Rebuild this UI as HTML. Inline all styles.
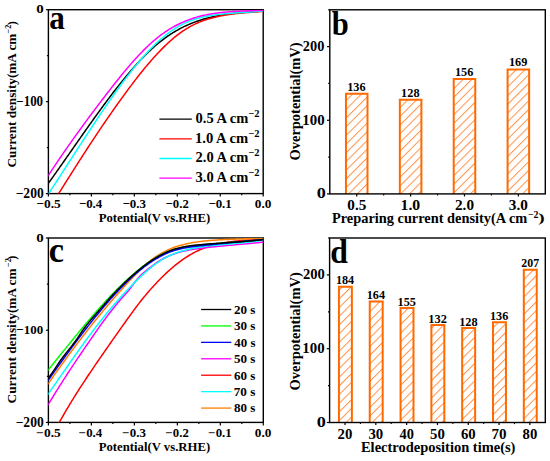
<!DOCTYPE html>
<html><head><meta charset="utf-8"><title>Figure</title>
<style>
html,body{margin:0;padding:0;background:#fff;}
body{width:550px;height:461px;overflow:hidden;font-family:"Liberation Serif",serif;}
svg{display:block;}
</style></head>
<body>
<svg width="550" height="461" viewBox="0 0 550 461">
<rect width="550" height="461" fill="#fff"/>
<g font-family='"Liberation Serif", serif' font-weight="bold">
<rect x="48.4" y="9.7" width="214.8" height="183.9" fill="none" stroke="#000" stroke-width="1.4"/>
<line x1="45.9" y1="9.7" x2="48.4" y2="9.7" stroke="#000" stroke-width="1.2"/>
<line x1="46.9" y1="55.67" x2="48.4" y2="55.67" stroke="#000" stroke-width="1.2"/>
<line x1="45.9" y1="101.65" x2="48.4" y2="101.65" stroke="#000" stroke-width="1.2"/>
<line x1="46.9" y1="147.62" x2="48.4" y2="147.62" stroke="#000" stroke-width="1.2"/>
<line x1="45.9" y1="193.6" x2="48.4" y2="193.6" stroke="#000" stroke-width="1.2"/>
<line x1="48.4" y1="193.6" x2="48.4" y2="196.6" stroke="#000" stroke-width="1.2"/>
<line x1="69.88" y1="193.6" x2="69.88" y2="195.2" stroke="#000" stroke-width="1.2"/>
<line x1="91.36" y1="193.6" x2="91.36" y2="196.6" stroke="#000" stroke-width="1.2"/>
<line x1="112.84" y1="193.6" x2="112.84" y2="195.2" stroke="#000" stroke-width="1.2"/>
<line x1="134.32" y1="193.6" x2="134.32" y2="196.6" stroke="#000" stroke-width="1.2"/>
<line x1="155.8" y1="193.6" x2="155.8" y2="195.2" stroke="#000" stroke-width="1.2"/>
<line x1="177.28" y1="193.6" x2="177.28" y2="196.6" stroke="#000" stroke-width="1.2"/>
<line x1="198.76" y1="193.6" x2="198.76" y2="195.2" stroke="#000" stroke-width="1.2"/>
<line x1="220.24" y1="193.6" x2="220.24" y2="196.6" stroke="#000" stroke-width="1.2"/>
<line x1="241.72" y1="193.6" x2="241.72" y2="195.2" stroke="#000" stroke-width="1.2"/>
<line x1="263.2" y1="193.6" x2="263.2" y2="196.6" stroke="#000" stroke-width="1.2"/>
<text x="36.3" y="13.2" font-size="12.48" textLength="7.5" lengthAdjust="spacingAndGlyphs" fill="#000">0</text>
<text x="16.29" y="105.8" font-size="13.53" textLength="26.83" lengthAdjust="spacingAndGlyphs" fill="#000">−100</text>
<text x="15.65" y="197.8" font-size="13.68" textLength="28.09" lengthAdjust="spacingAndGlyphs" fill="#000">−200</text>
<text x="36.36" y="208.3" font-size="13.08" textLength="24.41" lengthAdjust="spacingAndGlyphs" fill="#000">−0.5</text>
<text x="78.89" y="208.3" font-size="13.08" textLength="23.36" lengthAdjust="spacingAndGlyphs" fill="#000">−0.4</text>
<text x="122.39" y="208.3" font-size="13.08" textLength="23.46" lengthAdjust="spacingAndGlyphs" fill="#000">−0.3</text>
<text x="165.6" y="208.3" font-size="13.08" textLength="23.17" lengthAdjust="spacingAndGlyphs" fill="#000">−0.2</text>
<text x="208.39" y="208.3" font-size="13.08" textLength="23.35" lengthAdjust="spacingAndGlyphs" fill="#000">−0.1</text>
<text x="254.77" y="208.3" font-size="13.08" textLength="16.56" lengthAdjust="spacingAndGlyphs" fill="#000">0.0</text>
<text x="98.71" y="221.7" font-size="13.24" textLength="111.45" lengthAdjust="spacingAndGlyphs" fill="#000">Potential(V vs.RHE)</text>
<text transform="translate(15.9,167.46) rotate(-90)" x="0" y="0" font-size="12.09" textLength="133.68" lengthAdjust="spacingAndGlyphs">Current density(mA cm</text>
<text transform="translate(11.2,33.5) rotate(-90)" font-size="8.5" textLength="8.8" lengthAdjust="spacingAndGlyphs">−2</text>
<text transform="translate(16.2,25.2) rotate(-90)" font-size="12.5">)</text>
<text x="49.26" y="28.9" font-size="34.68" textLength="15.6" lengthAdjust="spacingAndGlyphs" fill="#000">a</text>
<line x1="159.4" y1="119.2" x2="191.8" y2="119.2" stroke="#000000" stroke-width="1.3"/>
<text x="195.52" y="123" font-size="13.83" textLength="52.76" lengthAdjust="spacingAndGlyphs" fill="#000">0.5 A cm</text>
<text x="248.4" y="117" font-size="10" textLength="11.2" lengthAdjust="spacingAndGlyphs">−2</text>
<line x1="159.4" y1="138.85" x2="191.8" y2="138.85" stroke="#FF0000" stroke-width="1.3"/>
<text x="194.93" y="142.65" font-size="13.83" textLength="53.35" lengthAdjust="spacingAndGlyphs" fill="#000">1.0 A cm</text>
<text x="248.4" y="136.65" font-size="10" textLength="11.2" lengthAdjust="spacingAndGlyphs">−2</text>
<line x1="159.4" y1="158.5" x2="191.8" y2="158.5" stroke="#00FFFF" stroke-width="1.3"/>
<text x="195.52" y="162.3" font-size="13.83" textLength="52.76" lengthAdjust="spacingAndGlyphs" fill="#000">2.0 A cm</text>
<text x="248.4" y="156.3" font-size="10" textLength="11.2" lengthAdjust="spacingAndGlyphs">−2</text>
<line x1="159.4" y1="178.15" x2="191.8" y2="178.15" stroke="#FF00FF" stroke-width="1.3"/>
<text x="195.52" y="181.95" font-size="13.83" textLength="52.76" lengthAdjust="spacingAndGlyphs" fill="#000">3.0 A cm</text>
<text x="248.4" y="175.95" font-size="10" textLength="11.2" lengthAdjust="spacingAndGlyphs">−2</text>
<g clip-path="url(#clipA)">
<path d="M46,186.58 L47,185.19 L48,183.81 L49,182.42 L50,181.02 L51,179.62 L52,178.22 L53,176.82 L54,175.41 L55,174 L56,172.59 L57,171.17 L58,169.76 L59,168.34 L60,166.92 L61,165.49 L62,164.07 L63,162.64 L64,161.22 L65,159.79 L66,158.36 L67,156.93 L68,155.5 L69,154.07 L70,152.64 L71,151.2 L72,149.77 L73,148.34 L74,146.91 L75,145.48 L76,144.04 L77,142.61 L78,141.18 L79,139.75 L80,138.33 L81,136.9 L82,135.48 L83,134.05 L84,132.63 L85,131.21 L86,129.79 L87,128.38 L88,126.96 L89,125.55 L90,124.14 L91,122.74 L92,121.34 L93,119.94 L94,118.54 L95,117.15 L96,115.76 L97,114.37 L98,112.99 L99,111.61 L100,110.24 L101,108.87 L102,107.5 L103,106.14 L104,104.78 L105,103.43 L106,102.09 L107,100.74 L108,99.41 L109,98.08 L110,96.75 L111,95.44 L112,94.12 L113,92.82 L114,91.52 L115,90.23 L116,88.94 L117,87.66 L118,86.39 L119,85.13 L120,83.87 L121,82.62 L122,81.38 L123,80.15 L124,78.92 L125,77.71 L126,76.5 L127,75.3 L128,74.11 L129,72.93 L130,71.76 L131,70.6 L132,69.45 L133,68.31 L134,67.17 L135,66.05 L136,64.94 L137,63.84 L138,62.75 L139,61.67 L140,60.61 L141,59.55 L142,58.51 L143,57.47 L144,56.45 L145,55.44 L146,54.45 L147,53.46 L148,52.49 L149,51.53 L150,50.59 L151,49.65 L152,48.74 L153,47.83 L154,46.94 L155,46.06 L156,45.2 L157,44.35 L158,43.51 L159,42.69 L160,41.88 L161,41.09 L162,40.32 L163,39.56 L164,38.81 L165,38.08 L166,37.36 L167,36.65 L168,35.96 L169,35.28 L170,34.62 L171,33.97 L172,33.33 L173,32.71 L174,32.1 L175,31.5 L176,30.92 L177,30.34 L178,29.78 L179,29.24 L180,28.7 L181,28.18 L182,27.66 L183,27.16 L184,26.67 L185,26.19 L186,25.73 L187,25.27 L188,24.83 L189,24.39 L190,23.97 L191,23.55 L192,23.15 L193,22.76 L194,22.37 L195,22 L196,21.63 L197,21.28 L198,20.93 L199,20.6 L200,20.27 L201,19.95 L202,19.64 L203,19.34 L204,19.05 L205,18.76 L206,18.48 L207,18.22 L208,17.95 L209,17.7 L210,17.45 L211,17.21 L212,16.98 L213,16.76 L214,16.54 L215,16.33 L216,16.12 L217,15.93 L218,15.73 L219,15.55 L220,15.37 L221,15.19 L222,15.02 L223,14.86 L224,14.7 L225,14.55 L226,14.4 L227,14.26 L228,14.12 L229,13.98 L230,13.85 L231,13.73 L232,13.61 L233,13.49 L234,13.38 L235,13.27 L236,13.16 L237,13.05 L238,12.95 L239,12.86 L240,12.76 L241,12.67 L242,12.58 L243,12.49 L244,12.41 L245,12.33 L246,12.25 L247,12.17 L248,12.09 L249,12.01 L250,11.94 L251,11.87 L252,11.79 L253,11.72 L254,11.65 L255,11.58 L256,11.51 L257,11.44 L258,11.37 L259,11.3 L260,11.23 L261,11.16 L262,11.09 L263,11.02 L264,10.95" fill="none" stroke="#000000" stroke-width="1.5" stroke-linejoin="round"/>
<path d="M54,200.8 L55,199.24 L56,197.68 L57,196.11 L58,194.54 L59,192.97 L60,191.39 L61,189.81 L62,188.24 L63,186.66 L64,185.08 L65,183.5 L66,181.92 L67,180.33 L68,178.75 L69,177.17 L70,175.59 L71,174.01 L72,172.43 L73,170.85 L74,169.28 L75,167.7 L76,166.13 L77,164.56 L78,162.99 L79,161.43 L80,159.86 L81,158.3 L82,156.75 L83,155.19 L84,153.64 L85,152.09 L86,150.55 L87,149.01 L88,147.47 L89,145.94 L90,144.41 L91,142.89 L92,141.37 L93,139.85 L94,138.34 L95,136.83 L96,135.33 L97,133.83 L98,132.33 L99,130.84 L100,129.36 L101,127.88 L102,126.4 L103,124.93 L104,123.47 L105,122.01 L106,120.55 L107,119.1 L108,117.65 L109,116.2 L110,114.76 L111,113.33 L112,111.9 L113,110.47 L114,109.05 L115,107.63 L116,106.21 L117,104.8 L118,103.4 L119,102 L120,100.61 L121,99.22 L122,97.84 L123,96.46 L124,95.09 L125,93.72 L126,92.36 L127,91.01 L128,89.66 L129,88.32 L130,86.98 L131,85.65 L132,84.33 L133,83.02 L134,81.71 L135,80.41 L136,79.11 L137,77.83 L138,76.55 L139,75.28 L140,74.02 L141,72.77 L142,71.52 L143,70.29 L144,69.06 L145,67.84 L146,66.64 L147,65.44 L148,64.26 L149,63.08 L150,61.92 L151,60.76 L152,59.62 L153,58.49 L154,57.37 L155,56.26 L156,55.16 L157,54.08 L158,53.01 L159,51.95 L160,50.91 L161,49.87 L162,48.85 L163,47.85 L164,46.86 L165,45.88 L166,44.92 L167,43.97 L168,43.04 L169,42.12 L170,41.22 L171,40.33 L172,39.46 L173,38.61 L174,37.77 L175,36.95 L176,36.14 L177,35.35 L178,34.58 L179,33.82 L180,33.08 L181,32.36 L182,31.66 L183,30.98 L184,30.31 L185,29.66 L186,29.03 L187,28.42 L188,27.82 L189,27.25 L190,26.69 L191,26.14 L192,25.61 L193,25.1 L194,24.6 L195,24.12 L196,23.65 L197,23.2 L198,22.76 L199,22.34 L200,21.93 L201,21.53 L202,21.15 L203,20.77 L204,20.41 L205,20.06 L206,19.73 L207,19.4 L208,19.09 L209,18.78 L210,18.49 L211,18.21 L212,17.93 L213,17.67 L214,17.41 L215,17.17 L216,16.93 L217,16.7 L218,16.48 L219,16.26 L220,16.06 L221,15.86 L222,15.67 L223,15.48 L224,15.3 L225,15.13 L226,14.97 L227,14.81 L228,14.66 L229,14.51 L230,14.37 L231,14.23 L232,14.1 L233,13.97 L234,13.85 L235,13.73 L236,13.62 L237,13.51 L238,13.41 L239,13.3 L240,13.2 L241,13.11 L242,13.01 L243,12.92 L244,12.84 L245,12.75 L246,12.67 L247,12.58 L248,12.5 L249,12.42 L250,12.35 L251,12.27 L252,12.19 L253,12.11 L254,12.04 L255,11.96 L256,11.89 L257,11.81 L258,11.73 L259,11.65 L260,11.57 L261,11.49 L262,11.41 L263,11.32 L264,11.24" fill="none" stroke="#FF0000" stroke-width="1.5" stroke-linejoin="round"/>
<path d="M46,197.6 L47,196.08 L48,194.56 L49,193.04 L50,191.51 L51,189.98 L52,188.45 L53,186.91 L54,185.38 L55,183.84 L56,182.3 L57,180.76 L58,179.22 L59,177.67 L60,176.13 L61,174.58 L62,173.03 L63,171.48 L64,169.93 L65,168.38 L66,166.83 L67,165.28 L68,163.73 L69,162.18 L70,160.63 L71,159.07 L72,157.52 L73,155.97 L74,154.42 L75,152.87 L76,151.33 L77,149.78 L78,148.23 L79,146.69 L80,145.15 L81,143.6 L82,142.06 L83,140.52 L84,138.99 L85,137.45 L86,135.92 L87,134.39 L88,132.86 L89,131.34 L90,129.82 L91,128.3 L92,126.78 L93,125.27 L94,123.76 L95,122.25 L96,120.75 L97,119.25 L98,117.75 L99,116.26 L100,114.77 L101,113.29 L102,111.81 L103,110.34 L104,108.87 L105,107.4 L106,105.94 L107,104.48 L108,103.03 L109,101.59 L110,100.15 L111,98.72 L112,97.29 L113,95.87 L114,94.45 L115,93.04 L116,91.64 L117,90.25 L118,88.86 L119,87.48 L120,86.11 L121,84.74 L122,83.39 L123,82.04 L124,80.7 L125,79.37 L126,78.05 L127,76.73 L128,75.43 L129,74.14 L130,72.85 L131,71.58 L132,70.31 L133,69.06 L134,67.81 L135,66.58 L136,65.36 L137,64.15 L138,62.95 L139,61.76 L140,60.59 L141,59.42 L142,58.27 L143,57.13 L144,56.01 L145,54.89 L146,53.79 L147,52.71 L148,51.63 L149,50.57 L150,49.53 L151,48.49 L152,47.48 L153,46.47 L154,45.49 L155,44.51 L156,43.55 L157,42.61 L158,41.68 L159,40.77 L160,39.88 L161,39 L162,38.13 L163,37.29 L164,36.46 L165,35.64 L166,34.85 L167,34.07 L168,33.31 L169,32.57 L170,31.84 L171,31.14 L172,30.45 L173,29.78 L174,29.13 L175,28.5 L176,27.88 L177,27.29 L178,26.71 L179,26.15 L180,25.6 L181,25.08 L182,24.56 L183,24.07 L184,23.59 L185,23.12 L186,22.67 L187,22.24 L188,21.82 L189,21.41 L190,21.02 L191,20.64 L192,20.28 L193,19.92 L194,19.58 L195,19.26 L196,18.94 L197,18.64 L198,18.35 L199,18.07 L200,17.8 L201,17.54 L202,17.29 L203,17.05 L204,16.82 L205,16.6 L206,16.4 L207,16.19 L208,16 L209,15.82 L210,15.64 L211,15.47 L212,15.31 L213,15.16 L214,15.01 L215,14.87 L216,14.74 L217,14.61 L218,14.49 L219,14.37 L220,14.26 L221,14.15 L222,14.04 L223,13.95 L224,13.85 L225,13.76 L226,13.67 L227,13.59 L228,13.5 L229,13.42 L230,13.35 L231,13.27 L232,13.2 L233,13.13 L234,13.06 L235,12.99 L236,12.92 L237,12.86 L238,12.79 L239,12.73 L240,12.67 L241,12.6 L242,12.54 L243,12.48 L244,12.41 L245,12.35 L246,12.28 L247,12.22 L248,12.15 L249,12.08 L250,12.01 L251,11.94 L252,11.87 L253,11.79 L254,11.71 L255,11.63 L256,11.55 L257,11.46 L258,11.37 L259,11.28 L260,11.18 L261,11.08 L262,10.98 L263,10.87 L264,10.76" fill="none" stroke="#00FFFF" stroke-width="1.5" stroke-linejoin="round"/>
<path d="M46,178.97 L47,177.44 L48,175.91 L49,174.38 L50,172.87 L51,171.35 L52,169.85 L53,168.34 L54,166.85 L55,165.36 L56,163.87 L57,162.39 L58,160.91 L59,159.44 L60,157.97 L61,156.51 L62,155.05 L63,153.6 L64,152.15 L65,150.71 L66,149.27 L67,147.83 L68,146.4 L69,144.98 L70,143.56 L71,142.14 L72,140.73 L73,139.32 L74,137.91 L75,136.51 L76,135.11 L77,133.72 L78,132.33 L79,130.95 L80,129.57 L81,128.19 L82,126.82 L83,125.45 L84,124.08 L85,122.72 L86,121.36 L87,120 L88,118.65 L89,117.3 L90,115.95 L91,114.61 L92,113.27 L93,111.93 L94,110.6 L95,109.27 L96,107.94 L97,106.62 L98,105.29 L99,103.97 L100,102.66 L101,101.34 L102,100.03 L103,98.73 L104,97.42 L105,96.12 L106,94.82 L107,93.52 L108,92.22 L109,90.93 L110,89.64 L111,88.36 L112,87.08 L113,85.8 L114,84.53 L115,83.26 L116,82 L117,80.75 L118,79.5 L119,78.25 L120,77.01 L121,75.78 L122,74.56 L123,73.34 L124,72.13 L125,70.92 L126,69.73 L127,68.54 L128,67.36 L129,66.19 L130,65.03 L131,63.88 L132,62.74 L133,61.61 L134,60.48 L135,59.37 L136,58.27 L137,57.18 L138,56.1 L139,55.03 L140,53.97 L141,52.93 L142,51.9 L143,50.88 L144,49.87 L145,48.88 L146,47.89 L147,46.93 L148,45.97 L149,45.03 L150,44.11 L151,43.2 L152,42.3 L153,41.42 L154,40.55 L155,39.7 L156,38.87 L157,38.05 L158,37.25 L159,36.47 L160,35.7 L161,34.95 L162,34.21 L163,33.49 L164,32.79 L165,32.1 L166,31.42 L167,30.76 L168,30.12 L169,29.49 L170,28.88 L171,28.28 L172,27.69 L173,27.12 L174,26.56 L175,26.01 L176,25.48 L177,24.96 L178,24.46 L179,23.97 L180,23.49 L181,23.02 L182,22.56 L183,22.12 L184,21.69 L185,21.27 L186,20.87 L187,20.47 L188,20.09 L189,19.71 L190,19.35 L191,19 L192,18.66 L193,18.33 L194,18.01 L195,17.7 L196,17.4 L197,17.11 L198,16.82 L199,16.55 L200,16.29 L201,16.04 L202,15.79 L203,15.55 L204,15.33 L205,15.11 L206,14.89 L207,14.69 L208,14.49 L209,14.3 L210,14.12 L211,13.95 L212,13.78 L213,13.62 L214,13.46 L215,13.32 L216,13.18 L217,13.04 L218,12.91 L219,12.79 L220,12.67 L221,12.55 L222,12.45 L223,12.34 L224,12.25 L225,12.15 L226,12.06 L227,11.98 L228,11.9 L229,11.82 L230,11.75 L231,11.68 L232,11.61 L233,11.55 L234,11.49 L235,11.43 L236,11.37 L237,11.32 L238,11.27 L239,11.22 L240,11.18 L241,11.13 L242,11.09 L243,11.05 L244,11.01 L245,10.97 L246,10.93 L247,10.89 L248,10.86 L249,10.82 L250,10.78 L251,10.75 L252,10.71 L253,10.67 L254,10.63 L255,10.59 L256,10.55 L257,10.51 L258,10.47 L259,10.43 L260,10.38 L261,10.33 L262,10.28 L263,10.23 L264,10.18" fill="none" stroke="#FF00FF" stroke-width="1.5" stroke-linejoin="round"/>
</g>
<rect x="48.4" y="238" width="214.9" height="184.4" fill="none" stroke="#000" stroke-width="1.4"/>
<line x1="45.9" y1="238" x2="48.4" y2="238" stroke="#000" stroke-width="1.2"/>
<line x1="46.9" y1="284.1" x2="48.4" y2="284.1" stroke="#000" stroke-width="1.2"/>
<line x1="45.9" y1="330.2" x2="48.4" y2="330.2" stroke="#000" stroke-width="1.2"/>
<line x1="46.9" y1="376.3" x2="48.4" y2="376.3" stroke="#000" stroke-width="1.2"/>
<line x1="45.9" y1="422.4" x2="48.4" y2="422.4" stroke="#000" stroke-width="1.2"/>
<line x1="48.4" y1="422.4" x2="48.4" y2="425.4" stroke="#000" stroke-width="1.2"/>
<line x1="69.89" y1="422.4" x2="69.89" y2="424" stroke="#000" stroke-width="1.2"/>
<line x1="91.38" y1="422.4" x2="91.38" y2="425.4" stroke="#000" stroke-width="1.2"/>
<line x1="112.87" y1="422.4" x2="112.87" y2="424" stroke="#000" stroke-width="1.2"/>
<line x1="134.36" y1="422.4" x2="134.36" y2="425.4" stroke="#000" stroke-width="1.2"/>
<line x1="155.85" y1="422.4" x2="155.85" y2="424" stroke="#000" stroke-width="1.2"/>
<line x1="177.34" y1="422.4" x2="177.34" y2="425.4" stroke="#000" stroke-width="1.2"/>
<line x1="198.83" y1="422.4" x2="198.83" y2="424" stroke="#000" stroke-width="1.2"/>
<line x1="220.32" y1="422.4" x2="220.32" y2="425.4" stroke="#000" stroke-width="1.2"/>
<line x1="241.81" y1="422.4" x2="241.81" y2="424" stroke="#000" stroke-width="1.2"/>
<line x1="263.3" y1="422.4" x2="263.3" y2="425.4" stroke="#000" stroke-width="1.2"/>
<text x="36.3" y="242" font-size="12.63" textLength="7.5" lengthAdjust="spacingAndGlyphs" fill="#000">0</text>
<text x="16.29" y="334.3" font-size="13.38" textLength="26.83" lengthAdjust="spacingAndGlyphs" fill="#000">−100</text>
<text x="15.65" y="426.6" font-size="13.53" textLength="28.09" lengthAdjust="spacingAndGlyphs" fill="#000">−200</text>
<text x="36.36" y="437.1" font-size="12.18" textLength="24.41" lengthAdjust="spacingAndGlyphs" fill="#000">−0.5</text>
<text x="78.89" y="437.1" font-size="12.18" textLength="23.36" lengthAdjust="spacingAndGlyphs" fill="#000">−0.4</text>
<text x="122.39" y="437.1" font-size="12.18" textLength="23.46" lengthAdjust="spacingAndGlyphs" fill="#000">−0.3</text>
<text x="165.6" y="437.1" font-size="12.18" textLength="23.17" lengthAdjust="spacingAndGlyphs" fill="#000">−0.2</text>
<text x="208.39" y="437.1" font-size="12.18" textLength="23.35" lengthAdjust="spacingAndGlyphs" fill="#000">−0.1</text>
<text x="254.77" y="437.1" font-size="12.18" textLength="16.56" lengthAdjust="spacingAndGlyphs" fill="#000">0.0</text>
<text x="98.71" y="450.5" font-size="12.95" textLength="111.45" lengthAdjust="spacingAndGlyphs" fill="#000">Potential(V vs.RHE)</text>
<text transform="translate(15.9,403.47) rotate(-90)" x="0" y="0" font-size="12.09" textLength="135.09" lengthAdjust="spacingAndGlyphs">Current density(mA cm</text>
<text transform="translate(11.2,267.0) rotate(-90)" font-size="8.5" textLength="8.8" lengthAdjust="spacingAndGlyphs">−2</text>
<text transform="translate(16.2,259.7) rotate(-90)" font-size="12.5">)</text>
<text x="48.7" y="261.6" font-size="35.11" textLength="15.22" lengthAdjust="spacingAndGlyphs" fill="#000">c</text>
<line x1="201.1" y1="309.5" x2="231.3" y2="309.5" stroke="#000000" stroke-width="1.3"/>
<text x="233.98" y="313.8" font-size="12.93" textLength="21.44" lengthAdjust="spacingAndGlyphs" fill="#000">20 s</text>
<line x1="201.1" y1="325.93" x2="231.3" y2="325.93" stroke="#00FF00" stroke-width="1.3"/>
<text x="233.98" y="330.23" font-size="12.93" textLength="21.44" lengthAdjust="spacingAndGlyphs" fill="#000">30 s</text>
<line x1="201.1" y1="342.36" x2="231.3" y2="342.36" stroke="#0000FF" stroke-width="1.3"/>
<text x="234.31" y="346.66" font-size="12.93" textLength="21.1" lengthAdjust="spacingAndGlyphs" fill="#000">40 s</text>
<line x1="201.1" y1="358.79" x2="231.3" y2="358.79" stroke="#FF00FF" stroke-width="1.3"/>
<text x="233.98" y="363.09" font-size="12.93" textLength="21.44" lengthAdjust="spacingAndGlyphs" fill="#000">50 s</text>
<line x1="201.1" y1="375.22" x2="231.3" y2="375.22" stroke="#FF0000" stroke-width="1.3"/>
<text x="234.04" y="379.52" font-size="12.93" textLength="21.37" lengthAdjust="spacingAndGlyphs" fill="#000">60 s</text>
<line x1="201.1" y1="391.65" x2="231.3" y2="391.65" stroke="#00FFFF" stroke-width="1.3"/>
<text x="233.77" y="395.95" font-size="12.93" textLength="21.64" lengthAdjust="spacingAndGlyphs" fill="#000">70 s</text>
<line x1="201.1" y1="408.08" x2="231.3" y2="408.08" stroke="#FF8000" stroke-width="1.3"/>
<text x="234.04" y="412.38" font-size="12.93" textLength="21.37" lengthAdjust="spacingAndGlyphs" fill="#000">80 s</text>
<g clip-path="url(#clipC)">
<path d="M54,432.19 L55,430.29 L56,428.42 L57,426.57 L58,424.73 L59,422.91 L60,421.11 L61,419.33 L62,417.56 L63,415.81 L64,414.07 L65,412.34 L66,410.63 L67,408.94 L68,407.26 L69,405.59 L70,403.93 L71,402.29 L72,400.65 L73,399.03 L74,397.42 L75,395.82 L76,394.23 L77,392.64 L78,391.07 L79,389.51 L80,387.95 L81,386.41 L82,384.87 L83,383.34 L84,381.81 L85,380.29 L86,378.78 L87,377.28 L88,375.78 L89,374.29 L90,372.8 L91,371.31 L92,369.83 L93,368.36 L94,366.89 L95,365.42 L96,363.95 L97,362.49 L98,361.03 L99,359.58 L100,358.12 L101,356.67 L102,355.22 L103,353.78 L104,352.33 L105,350.89 L106,349.45 L107,348.01 L108,346.58 L109,345.15 L110,343.72 L111,342.29 L112,340.86 L113,339.44 L114,338.01 L115,336.59 L116,335.17 L117,333.75 L118,332.33 L119,330.92 L120,329.5 L121,328.09 L122,326.68 L123,325.27 L124,323.86 L125,322.45 L126,321.04 L127,319.64 L128,318.24 L129,316.84 L130,315.46 L131,314.07 L132,312.7 L133,311.33 L134,309.98 L135,308.63 L136,307.3 L137,305.97 L138,304.66 L139,303.37 L140,302.08 L141,300.81 L142,299.56 L143,298.32 L144,297.09 L145,295.88 L146,294.68 L147,293.5 L148,292.32 L149,291.16 L150,290.02 L151,288.88 L152,287.76 L153,286.65 L154,285.55 L155,284.46 L156,283.39 L157,282.32 L158,281.27 L159,280.24 L160,279.21 L161,278.2 L162,277.2 L163,276.22 L164,275.24 L165,274.29 L166,273.34 L167,272.41 L168,271.49 L169,270.58 L170,269.69 L171,268.82 L172,267.95 L173,267.1 L174,266.27 L175,265.45 L176,264.64 L177,263.85 L178,263.07 L179,262.31 L180,261.56 L181,260.83 L182,260.11 L183,259.41 L184,258.72 L185,258.05 L186,257.39 L187,256.75 L188,256.12 L189,255.51 L190,254.92 L191,254.34 L192,253.78 L193,253.23 L194,252.7 L195,252.18 L196,251.67 L197,251.18 L198,250.71 L199,250.25 L200,249.8 L201,249.37 L202,248.95 L203,248.54 L204,248.14 L205,247.76 L206,247.39 L207,247.04 L208,246.69 L209,246.36 L210,246.04 L211,245.73 L212,245.44 L213,245.15 L214,244.88 L215,244.62 L216,244.36 L217,244.12 L218,243.89 L219,243.67 L220,243.46 L221,243.26 L222,243.06 L223,242.88 L224,242.7 L225,242.53 L226,242.37 L227,242.22 L228,242.07 L229,241.93 L230,241.79 L231,241.67 L232,241.54 L233,241.42 L234,241.31 L235,241.2 L236,241.1 L237,241 L238,240.9 L239,240.81 L240,240.72 L241,240.63 L242,240.54 L243,240.46 L244,240.37 L245,240.29 L246,240.21 L247,240.13 L248,240.05 L249,239.97 L250,239.89 L251,239.8 L252,239.72 L253,239.63 L254,239.55 L255,239.46 L256,239.36 L257,239.27 L258,239.17 L259,239.07 L260,238.96 L261,238.85 L262,238.74 L263,238.62 L264,238.49" fill="none" stroke="#FF0000" stroke-width="1.5" stroke-linejoin="round"/>
<path d="M46,408.16 L47,406.49 L48,404.82 L49,403.16 L50,401.51 L51,399.87 L52,398.24 L53,396.61 L54,394.99 L55,393.38 L56,391.77 L57,390.17 L58,388.58 L59,386.99 L60,385.42 L61,383.84 L62,382.28 L63,380.72 L64,379.16 L65,377.61 L66,376.07 L67,374.53 L68,373 L69,371.48 L70,369.95 L71,368.44 L72,366.93 L73,365.42 L74,363.92 L75,362.42 L76,360.92 L77,359.43 L78,357.95 L79,356.46 L80,354.98 L81,353.51 L82,352.04 L83,350.57 L84,349.1 L85,347.64 L86,346.18 L87,344.72 L88,343.26 L89,341.81 L90,340.36 L91,338.91 L92,337.46 L93,336.02 L94,334.58 L95,333.13 L96,331.7 L97,330.27 L98,328.84 L99,327.42 L100,326.01 L101,324.61 L102,323.21 L103,321.83 L104,320.46 L105,319.1 L106,317.75 L107,316.41 L108,315.09 L109,313.78 L110,312.49 L111,311.2 L112,309.93 L113,308.68 L114,307.43 L115,306.2 L116,304.99 L117,303.78 L118,302.59 L119,301.42 L120,300.26 L121,299.11 L122,297.97 L123,296.85 L124,295.74 L125,294.62 L126,293.49 L127,292.34 L128,291.16 L129,289.95 L130,288.69 L131,287.39 L132,286.06 L133,284.72 L134,283.37 L135,282.04 L136,280.74 L137,279.48 L138,278.28 L139,277.15 L140,276.09 L141,275.09 L142,274.14 L143,273.24 L144,272.38 L145,271.55 L146,270.74 L147,269.95 L148,269.16 L149,268.38 L150,267.59 L151,266.8 L152,266 L153,265.23 L154,264.48 L155,263.76 L156,263.06 L157,262.38 L158,261.72 L159,261.09 L160,260.48 L161,259.89 L162,259.32 L163,258.77 L164,258.24 L165,257.73 L166,257.24 L167,256.76 L168,256.31 L169,255.87 L170,255.45 L171,255.05 L172,254.66 L173,254.29 L174,253.93 L175,253.59 L176,253.26 L177,252.94 L178,252.64 L179,252.35 L180,252.08 L181,251.81 L182,251.56 L183,251.32 L184,251.08 L185,250.86 L186,250.65 L187,250.44 L188,250.25 L189,250.06 L190,249.88 L191,249.71 L192,249.54 L193,249.38 L194,249.23 L195,249.08 L196,248.93 L197,248.79 L198,248.65 L199,248.52 L200,248.39 L201,248.26 L202,248.13 L203,248.01 L204,247.89 L205,247.77 L206,247.65 L207,247.53 L208,247.42 L209,247.31 L210,247.2 L211,247.09 L212,246.98 L213,246.87 L214,246.77 L215,246.67 L216,246.56 L217,246.46 L218,246.36 L219,246.27 L220,246.17 L221,246.07 L222,245.98 L223,245.88 L224,245.79 L225,245.7 L226,245.61 L227,245.52 L228,245.42 L229,245.33 L230,245.24 L231,245.16 L232,245.07 L233,244.98 L234,244.89 L235,244.8 L236,244.71 L237,244.62 L238,244.53 L239,244.45 L240,244.36 L241,244.27 L242,244.18 L243,244.09 L244,244 L245,243.91 L246,243.81 L247,243.72 L248,243.63 L249,243.53 L250,243.44 L251,243.34 L252,243.25 L253,243.15 L254,243.05 L255,242.95 L256,242.85 L257,242.75 L258,242.64 L259,242.54 L260,242.43 L261,242.32 L262,242.21 L263,242.1 L264,241.99" fill="none" stroke="#FF00FF" stroke-width="1.5" stroke-linejoin="round"/>
<path d="M46,397.16 L47,395.74 L48,394.31 L49,392.88 L50,391.44 L51,390.01 L52,388.57 L53,387.13 L54,385.69 L55,384.25 L56,382.81 L57,381.36 L58,379.92 L59,378.48 L60,377.03 L61,375.59 L62,374.15 L63,372.71 L64,371.27 L65,369.83 L66,368.39 L67,366.95 L68,365.51 L69,364.08 L70,362.65 L71,361.22 L72,359.79 L73,358.37 L74,356.95 L75,355.53 L76,354.11 L77,352.7 L78,351.29 L79,349.89 L80,348.49 L81,347.1 L82,345.71 L83,344.32 L84,342.94 L85,341.56 L86,340.19 L87,338.83 L88,337.47 L89,336.12 L90,334.77 L91,333.43 L92,332.1 L93,330.78 L94,329.46 L95,328.15 L96,326.84 L97,325.55 L98,324.26 L99,322.98 L100,321.71 L101,320.44 L102,319.19 L103,317.94 L104,316.7 L105,315.47 L106,314.24 L107,313.03 L108,311.82 L109,310.62 L110,309.42 L111,308.24 L112,307.06 L113,305.89 L114,304.73 L115,303.58 L116,302.43 L117,301.29 L118,300.16 L119,299.04 L120,297.92 L121,296.81 L122,295.71 L123,294.62 L124,293.54 L125,292.46 L126,291.39 L127,290.33 L128,289.27 L129,288.22 L130,287.18 L131,286.15 L132,285.12 L133,284.11 L134,283.1 L135,282.09 L136,281.1 L137,280.11 L138,279.14 L139,278.17 L140,277.22 L141,276.27 L142,275.34 L143,274.42 L144,273.51 L145,272.61 L146,271.73 L147,270.86 L148,270 L149,269.16 L150,268.33 L151,267.52 L152,266.72 L153,265.94 L154,265.18 L155,264.43 L156,263.71 L157,262.99 L158,262.3 L159,261.63 L160,260.98 L161,260.34 L162,259.73 L163,259.13 L164,258.56 L165,258 L166,257.46 L167,256.94 L168,256.43 L169,255.95 L170,255.48 L171,255.02 L172,254.59 L173,254.16 L174,253.76 L175,253.36 L176,252.99 L177,252.62 L178,252.27 L179,251.93 L180,251.61 L181,251.29 L182,250.99 L183,250.7 L184,250.42 L185,250.16 L186,249.9 L187,249.65 L188,249.41 L189,249.18 L190,248.96 L191,248.75 L192,248.55 L193,248.35 L194,248.16 L195,247.98 L196,247.8 L197,247.63 L198,247.47 L199,247.31 L200,247.15 L201,247 L202,246.86 L203,246.72 L204,246.58 L205,246.44 L206,246.31 L207,246.19 L208,246.06 L209,245.94 L210,245.82 L211,245.71 L212,245.6 L213,245.49 L214,245.38 L215,245.28 L216,245.17 L217,245.07 L218,244.97 L219,244.88 L220,244.78 L221,244.69 L222,244.6 L223,244.51 L224,244.42 L225,244.33 L226,244.24 L227,244.15 L228,244.06 L229,243.98 L230,243.89 L231,243.8 L232,243.72 L233,243.63 L234,243.54 L235,243.45 L236,243.36 L237,243.27 L238,243.18 L239,243.09 L240,243 L241,242.9 L242,242.81 L243,242.71 L244,242.61 L245,242.51 L246,242.4 L247,242.29 L248,242.19 L249,242.07 L250,241.96 L251,241.84 L252,241.72 L253,241.6 L254,241.47 L255,241.34 L256,241.21 L257,241.07 L258,240.93 L259,240.79 L260,240.64 L261,240.48 L262,240.32 L263,240.16 L264,239.99" fill="none" stroke="#00FFFF" stroke-width="1.5" stroke-linejoin="round"/>
<path d="M46,386.8 L47,385.36 L48,383.92 L49,382.49 L50,381.06 L51,379.63 L52,378.21 L53,376.79 L54,375.38 L55,373.97 L56,372.56 L57,371.16 L58,369.76 L59,368.36 L60,366.97 L61,365.58 L62,364.2 L63,362.82 L64,361.44 L65,360.07 L66,358.7 L67,357.34 L68,355.98 L69,354.62 L70,353.27 L71,351.92 L72,350.58 L73,349.24 L74,347.9 L75,346.57 L76,345.24 L77,343.92 L78,342.6 L79,341.29 L80,339.98 L81,338.67 L82,337.37 L83,336.07 L84,334.78 L85,333.49 L86,332.2 L87,330.92 L88,329.65 L89,328.38 L90,327.11 L91,325.85 L92,324.59 L93,323.34 L94,322.09 L95,320.84 L96,319.6 L97,318.37 L98,317.14 L99,315.91 L100,314.69 L101,313.48 L102,312.26 L103,311.06 L104,309.86 L105,308.66 L106,307.47 L107,306.28 L108,305.09 L109,303.92 L110,302.74 L111,301.57 L112,300.41 L113,299.25 L114,298.1 L115,296.95 L116,295.8 L117,294.66 L118,293.53 L119,292.4 L120,291.27 L121,290.15 L122,289.04 L123,287.93 L124,286.82 L125,285.72 L126,284.62 L127,283.53 L128,282.44 L129,281.36 L130,280.28 L131,279.21 L132,278.14 L133,277.08 L134,276.02 L135,274.98 L136,273.94 L137,272.92 L138,271.9 L139,270.9 L140,269.91 L141,268.93 L142,267.97 L143,267.03 L144,266.1 L145,265.19 L146,264.3 L147,263.43 L148,262.58 L149,261.75 L150,260.94 L151,260.16 L152,259.4 L153,258.65 L154,257.93 L155,257.24 L156,256.56 L157,255.9 L158,255.26 L159,254.64 L160,254.04 L161,253.46 L162,252.89 L163,252.35 L164,251.82 L165,251.31 L166,250.82 L167,250.34 L168,249.88 L169,249.43 L170,249.01 L171,248.59 L172,248.19 L173,247.81 L174,247.44 L175,247.08 L176,246.73 L177,246.4 L178,246.09 L179,245.78 L180,245.49 L181,245.2 L182,244.93 L183,244.67 L184,244.42 L185,244.18 L186,243.95 L187,243.73 L188,243.52 L189,243.32 L190,243.13 L191,242.94 L192,242.76 L193,242.59 L194,242.43 L195,242.27 L196,242.12 L197,241.98 L198,241.84 L199,241.7 L200,241.58 L201,241.45 L202,241.33 L203,241.22 L204,241.1 L205,241 L206,240.89 L207,240.79 L208,240.7 L209,240.61 L210,240.52 L211,240.43 L212,240.35 L213,240.27 L214,240.2 L215,240.13 L216,240.06 L217,239.99 L218,239.93 L219,239.87 L220,239.81 L221,239.75 L222,239.7 L223,239.65 L224,239.6 L225,239.55 L226,239.5 L227,239.46 L228,239.42 L229,239.38 L230,239.34 L231,239.3 L232,239.26 L233,239.23 L234,239.19 L235,239.16 L236,239.12 L237,239.09 L238,239.06 L239,239.03 L240,239 L241,238.97 L242,238.94 L243,238.91 L244,238.87 L245,238.84 L246,238.81 L247,238.78 L248,238.75 L249,238.72 L250,238.68 L251,238.65 L252,238.61 L253,238.58 L254,238.54 L255,238.5 L256,238.46 L257,238.42 L258,238.38 L259,238.33 L260,238.28 L261,238.24 L262,238.18 L263,238.13 L264,238.08" fill="none" stroke="#FF8000" stroke-width="1.5" stroke-linejoin="round"/>
<path d="M46,372.7 L47,371.46 L48,370.22 L49,368.98 L50,367.74 L51,366.5 L52,365.25 L53,364.01 L54,362.76 L55,361.52 L56,360.28 L57,359.03 L58,357.79 L59,356.54 L60,355.3 L61,354.06 L62,352.82 L63,351.58 L64,350.34 L65,349.1 L66,347.86 L67,346.63 L68,345.39 L69,344.16 L70,342.93 L71,341.7 L72,340.47 L73,339.25 L74,338.03 L75,336.81 L76,335.59 L77,334.37 L78,333.16 L79,331.95 L80,330.75 L81,329.54 L82,328.34 L83,327.15 L84,325.96 L85,324.77 L86,323.58 L87,322.4 L88,321.22 L89,320.05 L90,318.88 L91,317.72 L92,316.56 L93,315.4 L94,314.25 L95,313.1 L96,311.96 L97,310.83 L98,309.7 L99,308.57 L100,307.46 L101,306.34 L102,305.23 L103,304.13 L104,303.04 L105,301.95 L106,300.86 L107,299.79 L108,298.72 L109,297.65 L110,296.6 L111,295.55 L112,294.5 L113,293.47 L114,292.44 L115,291.42 L116,290.41 L117,289.4 L118,288.4 L119,287.41 L120,286.43 L121,285.46 L122,284.49 L123,283.54 L124,282.59 L125,281.65 L126,280.72 L127,279.79 L128,278.88 L129,277.98 L130,277.08 L131,276.2 L132,275.32 L133,274.46 L134,273.6 L135,272.76 L136,271.92 L137,271.1 L138,270.29 L139,269.49 L140,268.69 L141,267.91 L142,267.15 L143,266.39 L144,265.64 L145,264.91 L146,264.19 L147,263.48 L148,262.79 L149,262.1 L150,261.43 L151,260.77 L152,260.13 L153,259.5 L154,258.88 L155,258.28 L156,257.69 L157,257.11 L158,256.55 L159,256 L160,255.47 L161,254.95 L162,254.45 L163,253.96 L164,253.49 L165,253.04 L166,252.59 L167,252.17 L168,251.76 L169,251.37 L170,250.99 L171,250.63 L172,250.29 L173,249.96 L174,249.65 L175,249.35 L176,249.06 L177,248.79 L178,248.53 L179,248.29 L180,248.05 L181,247.83 L182,247.62 L183,247.42 L184,247.23 L185,247.05 L186,246.87 L187,246.71 L188,246.55 L189,246.41 L190,246.26 L191,246.13 L192,246 L193,245.88 L194,245.76 L195,245.64 L196,245.53 L197,245.43 L198,245.32 L199,245.22 L200,245.12 L201,245.03 L202,244.93 L203,244.83 L204,244.74 L205,244.65 L206,244.56 L207,244.47 L208,244.38 L209,244.29 L210,244.2 L211,244.12 L212,244.03 L213,243.95 L214,243.86 L215,243.78 L216,243.7 L217,243.61 L218,243.53 L219,243.45 L220,243.37 L221,243.29 L222,243.21 L223,243.13 L224,243.05 L225,242.98 L226,242.9 L227,242.82 L228,242.74 L229,242.66 L230,242.58 L231,242.5 L232,242.42 L233,242.34 L234,242.26 L235,242.18 L236,242.1 L237,242.02 L238,241.94 L239,241.86 L240,241.77 L241,241.69 L242,241.61 L243,241.52 L244,241.44 L245,241.35 L246,241.26 L247,241.17 L248,241.08 L249,240.99 L250,240.9 L251,240.81 L252,240.71 L253,240.62 L254,240.52 L255,240.42 L256,240.32 L257,240.22 L258,240.11 L259,240.01 L260,239.9 L261,239.79 L262,239.68 L263,239.57 L264,239.46" fill="none" stroke="#00FF00" stroke-width="1.5" stroke-linejoin="round"/>
<path d="M46,383.5 L47,382.06 L48,380.62 L49,379.18 L50,377.75 L51,376.32 L52,374.9 L53,373.48 L54,372.06 L55,370.64 L56,369.23 L57,367.82 L58,366.42 L59,365.02 L60,363.62 L61,362.23 L62,360.84 L63,359.45 L64,358.07 L65,356.69 L66,355.31 L67,353.94 L68,352.57 L69,351.21 L70,349.85 L71,348.5 L72,347.15 L73,345.8 L74,344.46 L75,343.12 L76,341.79 L77,340.46 L78,339.13 L79,337.81 L80,336.5 L81,335.19 L82,333.88 L83,332.58 L84,331.29 L85,330 L86,328.71 L87,327.43 L88,326.15 L89,324.88 L90,323.62 L91,322.36 L92,321.1 L93,319.85 L94,318.61 L95,317.37 L96,316.14 L97,314.91 L98,313.7 L99,312.48 L100,311.28 L101,310.08 L102,308.89 L103,307.7 L104,306.52 L105,305.35 L106,304.19 L107,303.03 L108,301.89 L109,300.75 L110,299.61 L111,298.49 L112,297.38 L113,296.27 L114,295.17 L115,294.08 L116,293 L117,291.93 L118,290.87 L119,289.82 L120,288.78 L121,287.74 L122,286.72 L123,285.71 L124,284.71 L125,283.71 L126,282.73 L127,281.76 L128,280.8 L129,279.85 L130,278.91 L131,277.99 L132,277.07 L133,276.17 L134,275.27 L135,274.39 L136,273.52 L137,272.67 L138,271.82 L139,270.99 L140,270.17 L141,269.37 L142,268.57 L143,267.79 L144,267.02 L145,266.27 L146,265.53 L147,264.8 L148,264.09 L149,263.39 L150,262.7 L151,262.03 L152,261.37 L153,260.73 L154,260.1 L155,259.48 L156,258.88 L157,258.3 L158,257.73 L159,257.17 L160,256.63 L161,256.1 L162,255.59 L163,255.09 L164,254.61 L165,254.14 L166,253.69 L167,253.26 L168,252.84 L169,252.43 L170,252.04 L171,251.67 L172,251.31 L173,250.97 L174,250.64 L175,250.33 L176,250.03 L177,249.75 L178,249.48 L179,249.22 L180,248.98 L181,248.75 L182,248.53 L183,248.32 L184,248.12 L185,247.93 L186,247.75 L187,247.58 L188,247.41 L189,247.26 L190,247.11 L191,246.96 L192,246.83 L193,246.69 L194,246.57 L195,246.44 L196,246.32 L197,246.2 L198,246.09 L199,245.98 L200,245.86 L201,245.75 L202,245.64 L203,245.53 L204,245.42 L205,245.31 L206,245.21 L207,245.1 L208,244.99 L209,244.89 L210,244.78 L211,244.67 L212,244.57 L213,244.47 L214,244.36 L215,244.26 L216,244.16 L217,244.05 L218,243.95 L219,243.85 L220,243.75 L221,243.65 L222,243.55 L223,243.45 L224,243.35 L225,243.25 L226,243.15 L227,243.05 L228,242.95 L229,242.85 L230,242.76 L231,242.66 L232,242.56 L233,242.46 L234,242.37 L235,242.27 L236,242.17 L237,242.08 L238,241.98 L239,241.89 L240,241.79 L241,241.69 L242,241.6 L243,241.5 L244,241.41 L245,241.31 L246,241.22 L247,241.12 L248,241.02 L249,240.93 L250,240.83 L251,240.74 L252,240.64 L253,240.55 L254,240.45 L255,240.36 L256,240.26 L257,240.16 L258,240.07 L259,239.97 L260,239.87 L261,239.78 L262,239.68 L263,239.58 L264,239.49" fill="none" stroke="#0000FF" stroke-width="1.5" stroke-linejoin="round"/>
<path d="M46,380.94 L47,379.77 L48,378.52 L49,377.23 L50,375.88 L51,374.49 L52,373.06 L53,371.61 L54,370.13 L55,368.64 L56,367.14 L57,365.64 L58,364.14 L59,362.66 L60,361.2 L61,359.77 L62,358.37 L63,357 L64,355.68 L65,354.38 L66,353.11 L67,351.85 L68,350.6 L69,349.36 L70,348.12 L71,346.87 L72,345.61 L73,344.33 L74,343.02 L75,341.68 L76,340.31 L77,338.89 L78,337.43 L79,335.91 L80,334.36 L81,332.84 L82,331.37 L83,329.94 L84,328.56 L85,327.22 L86,325.91 L87,324.63 L88,323.38 L89,322.15 L90,320.95 L91,319.77 L92,318.6 L93,317.44 L94,316.29 L95,315.14 L96,314 L97,312.85 L98,311.7 L99,310.55 L100,309.38 L101,308.22 L102,307.05 L103,305.88 L104,304.71 L105,303.55 L106,302.39 L107,301.23 L108,300.09 L109,298.96 L110,297.84 L111,296.73 L112,295.63 L113,294.54 L114,293.46 L115,292.4 L116,291.34 L117,290.3 L118,289.27 L119,288.25 L120,287.23 L121,286.23 L122,285.24 L123,284.26 L124,283.28 L125,282.32 L126,281.37 L127,280.42 L128,279.49 L129,278.56 L130,277.65 L131,276.74 L132,275.84 L133,274.95 L134,274.08 L135,273.21 L136,272.35 L137,271.5 L138,270.67 L139,269.84 L140,269.03 L141,268.22 L142,267.43 L143,266.65 L144,265.88 L145,265.13 L146,264.38 L147,263.65 L148,262.93 L149,262.23 L150,261.53 L151,260.85 L152,260.19 L153,259.54 L154,258.9 L155,258.27 L156,257.66 L157,257.07 L158,256.48 L159,255.92 L160,255.37 L161,254.83 L162,254.31 L163,253.8 L164,253.32 L165,252.84 L166,252.38 L167,251.94 L168,251.52 L169,251.11 L170,250.72 L171,250.35 L172,249.99 L173,249.65 L174,249.33 L175,249.02 L176,248.72 L177,248.44 L178,248.17 L179,247.92 L180,247.68 L181,247.45 L182,247.23 L183,247.03 L184,246.83 L185,246.64 L186,246.47 L187,246.3 L188,246.14 L189,245.99 L190,245.85 L191,245.71 L192,245.58 L193,245.46 L194,245.34 L195,245.23 L196,245.12 L197,245.02 L198,244.91 L199,244.82 L200,244.72 L201,244.63 L202,244.54 L203,244.45 L204,244.36 L205,244.27 L206,244.19 L207,244.1 L208,244.02 L209,243.94 L210,243.86 L211,243.78 L212,243.71 L213,243.63 L214,243.56 L215,243.48 L216,243.41 L217,243.34 L218,243.27 L219,243.2 L220,243.13 L221,243.06 L222,242.99 L223,242.92 L224,242.85 L225,242.78 L226,242.71 L227,242.64 L228,242.58 L229,242.51 L230,242.44 L231,242.37 L232,242.3 L233,242.23 L234,242.16 L235,242.09 L236,242.02 L237,241.95 L238,241.87 L239,241.8 L240,241.72 L241,241.65 L242,241.57 L243,241.49 L244,241.42 L245,241.34 L246,241.25 L247,241.17 L248,241.09 L249,241 L250,240.91 L251,240.82 L252,240.73 L253,240.64 L254,240.54 L255,240.44 L256,240.34 L257,240.24 L258,240.14 L259,240.03 L260,239.92 L261,239.81 L262,239.7 L263,239.58 L264,239.46" fill="none" stroke="#000000" stroke-width="1.5" stroke-linejoin="round"/>
</g>
<defs><pattern id="hatch" patternUnits="userSpaceOnUse" width="6.15" height="10" patternTransform="rotate(45)"><line x1="2.3" y1="-1" x2="2.3" y2="11" stroke="#FF8A3D" stroke-width="0.95"/></pattern><clipPath id="clipA"><rect x="48.4" y="9.7" width="214.8" height="183.9"/></clipPath><clipPath id="clipC"><rect x="48.4" y="238" width="214.9" height="184.4"/></clipPath></defs>
<rect x="345.96" y="93.75" width="21.55" height="100.15" fill="url(#hatch)"/>
<path d="M345.96,193.9 V93.75 H367.51 V193.9" fill="none" stroke="#FF6A00" stroke-width="2" stroke-linejoin="miter"/>
<text x="347.26" y="90.75" font-size="12.27" textLength="18.35" lengthAdjust="spacingAndGlyphs" fill="#000">136</text>
<rect x="399.84" y="99.64" width="21.55" height="94.26" fill="url(#hatch)"/>
<path d="M399.84,193.9 V99.64 H421.39 V193.9" fill="none" stroke="#FF6A00" stroke-width="2" stroke-linejoin="miter"/>
<text x="401.13" y="96.64" font-size="12.18" textLength="18.41" lengthAdjust="spacingAndGlyphs" fill="#000">128</text>
<rect x="453.71" y="79.02" width="21.55" height="114.88" fill="url(#hatch)"/>
<path d="M453.71,193.9 V79.02 H475.26 V193.9" fill="none" stroke="#FF6A00" stroke-width="2" stroke-linejoin="miter"/>
<text x="455.01" y="76.02" font-size="12.27" textLength="18.35" lengthAdjust="spacingAndGlyphs" fill="#000">156</text>
<rect x="507.59" y="69.45" width="21.55" height="124.45" fill="url(#hatch)"/>
<path d="M507.59,193.9 V69.45 H529.14 V193.9" fill="none" stroke="#FF6A00" stroke-width="2" stroke-linejoin="miter"/>
<text x="508.88" y="66.45" font-size="12.27" textLength="18.41" lengthAdjust="spacingAndGlyphs" fill="#000">169</text>
<rect x="329.8" y="9.8" width="215.5" height="184.1" fill="none" stroke="#000" stroke-width="1.4"/>
<line x1="327" y1="193.9" x2="329.8" y2="193.9" stroke="#000" stroke-width="1.2"/>
<line x1="328.2" y1="157.08" x2="329.8" y2="157.08" stroke="#000" stroke-width="1.2"/>
<line x1="327" y1="120.26" x2="329.8" y2="120.26" stroke="#000" stroke-width="1.2"/>
<line x1="328.2" y1="83.44" x2="329.8" y2="83.44" stroke="#000" stroke-width="1.2"/>
<line x1="327" y1="46.62" x2="329.8" y2="46.62" stroke="#000" stroke-width="1.2"/>
<line x1="328.2" y1="9.8" x2="329.8" y2="9.8" stroke="#000" stroke-width="1.2"/>
<line x1="356.74" y1="193.9" x2="356.74" y2="196.5" stroke="#000" stroke-width="1.2"/>
<line x1="410.61" y1="193.9" x2="410.61" y2="196.5" stroke="#000" stroke-width="1.2"/>
<line x1="383.68" y1="193.9" x2="383.68" y2="195.5" stroke="#000" stroke-width="1.1"/>
<line x1="464.49" y1="193.9" x2="464.49" y2="196.5" stroke="#000" stroke-width="1.2"/>
<line x1="437.55" y1="193.9" x2="437.55" y2="195.5" stroke="#000" stroke-width="1.1"/>
<line x1="518.36" y1="193.9" x2="518.36" y2="196.5" stroke="#000" stroke-width="1.2"/>
<line x1="491.42" y1="193.9" x2="491.42" y2="195.5" stroke="#000" stroke-width="1.1"/>
<text x="316.68" y="198.3" font-size="14.14" textLength="9.05" lengthAdjust="spacingAndGlyphs" fill="#000">0</text>
<text x="302.31" y="124.8" font-size="14.44" textLength="22.28" lengthAdjust="spacingAndGlyphs" fill="#000">100</text>
<text x="302.83" y="50.9" font-size="14.29" textLength="21.55" lengthAdjust="spacingAndGlyphs" fill="#000">200</text>
<text x="347.39" y="209.9" font-size="14.14" textLength="18.94" lengthAdjust="spacingAndGlyphs" fill="#000">0.5</text>
<text x="400.54" y="209.9" font-size="14.14" textLength="19.69" lengthAdjust="spacingAndGlyphs" fill="#000">1.0</text>
<text x="454.99" y="209.9" font-size="14.14" textLength="19.02" lengthAdjust="spacingAndGlyphs" fill="#000">2.0</text>
<text x="508.89" y="209.9" font-size="14.14" textLength="19.02" lengthAdjust="spacingAndGlyphs" fill="#000">3.0</text>
<text x="331.98" y="222.5" font-size="13.67" textLength="195.3" lengthAdjust="spacingAndGlyphs" fill="#000">Preparing current density(A cm</text>
<text x="528" y="217.5" font-size="9.5" textLength="10.5" lengthAdjust="spacingAndGlyphs">−2</text>
<text x="538.22" y="222.4" font-size="13" textLength="6.4" lengthAdjust="spacingAndGlyphs" fill="#000">)</text>
<text transform="translate(300,160.52) rotate(-90)" x="0" y="0" font-size="13.81" textLength="118.07" lengthAdjust="spacingAndGlyphs">Overpotential(mV)</text>
<text x="331.74" y="34.6" font-size="34.1" textLength="17.01" lengthAdjust="spacingAndGlyphs" fill="#000">b</text>
<rect x="338.94" y="286.71" width="12.94" height="135.79" fill="url(#hatch)"/>
<path d="M338.94,422.5 V286.71 H351.88 V422.5" fill="none" stroke="#FF6A00" stroke-width="2" stroke-linejoin="miter"/>
<text x="335.94" y="284.21" font-size="11.73" textLength="18.21" lengthAdjust="spacingAndGlyphs" fill="#000">184</text>
<rect x="369.75" y="301.47" width="12.94" height="121.03" fill="url(#hatch)"/>
<path d="M369.75,422.5 V301.47 H382.69 V422.5" fill="none" stroke="#FF6A00" stroke-width="2" stroke-linejoin="miter"/>
<text x="366.75" y="298.97" font-size="11.82" textLength="18.21" lengthAdjust="spacingAndGlyphs" fill="#000">164</text>
<rect x="400.56" y="308.11" width="12.94" height="114.39" fill="url(#hatch)"/>
<path d="M400.56,422.5 V308.11 H413.51 V422.5" fill="none" stroke="#FF6A00" stroke-width="2" stroke-linejoin="miter"/>
<text x="397.55" y="305.61" font-size="11.82" textLength="18.41" lengthAdjust="spacingAndGlyphs" fill="#000">155</text>
<rect x="431.38" y="325.08" width="12.94" height="97.42" fill="url(#hatch)"/>
<path d="M431.38,422.5 V325.08 H444.32 V422.5" fill="none" stroke="#FF6A00" stroke-width="2" stroke-linejoin="miter"/>
<text x="428.36" y="322.58" font-size="11.82" textLength="18.55" lengthAdjust="spacingAndGlyphs" fill="#000">132</text>
<rect x="462.19" y="328.04" width="12.94" height="94.46" fill="url(#hatch)"/>
<path d="M462.19,422.5 V328.04 H475.14 V422.5" fill="none" stroke="#FF6A00" stroke-width="2" stroke-linejoin="miter"/>
<text x="459.18" y="325.54" font-size="11.73" textLength="18.41" lengthAdjust="spacingAndGlyphs" fill="#000">128</text>
<rect x="493.01" y="322.13" width="12.94" height="100.37" fill="url(#hatch)"/>
<path d="M493.01,422.5 V322.13 H505.95 V422.5" fill="none" stroke="#FF6A00" stroke-width="2" stroke-linejoin="miter"/>
<text x="490" y="319.63" font-size="11.82" textLength="18.35" lengthAdjust="spacingAndGlyphs" fill="#000">136</text>
<rect x="523.82" y="269.73" width="12.94" height="152.77" fill="url(#hatch)"/>
<path d="M523.82,422.5 V269.73 H536.76 V422.5" fill="none" stroke="#FF6A00" stroke-width="2" stroke-linejoin="miter"/>
<text x="521.32" y="267.23" font-size="11.73" textLength="17.77" lengthAdjust="spacingAndGlyphs" fill="#000">207</text>
<rect x="329.6" y="238" width="215.7" height="184.5" fill="none" stroke="#000" stroke-width="1.4"/>
<line x1="326.8" y1="422.5" x2="329.6" y2="422.5" stroke="#000" stroke-width="1.2"/>
<line x1="328" y1="385.6" x2="329.6" y2="385.6" stroke="#000" stroke-width="1.2"/>
<line x1="326.8" y1="348.7" x2="329.6" y2="348.7" stroke="#000" stroke-width="1.2"/>
<line x1="328" y1="311.8" x2="329.6" y2="311.8" stroke="#000" stroke-width="1.2"/>
<line x1="326.8" y1="274.9" x2="329.6" y2="274.9" stroke="#000" stroke-width="1.2"/>
<line x1="328" y1="238" x2="329.6" y2="238" stroke="#000" stroke-width="1.2"/>
<line x1="345.01" y1="422.5" x2="345.01" y2="425.1" stroke="#000" stroke-width="1.2"/>
<line x1="375.82" y1="422.5" x2="375.82" y2="425.1" stroke="#000" stroke-width="1.2"/>
<line x1="360.41" y1="422.5" x2="360.41" y2="424.1" stroke="#000" stroke-width="1.1"/>
<line x1="406.64" y1="422.5" x2="406.64" y2="425.1" stroke="#000" stroke-width="1.2"/>
<line x1="391.23" y1="422.5" x2="391.23" y2="424.1" stroke="#000" stroke-width="1.1"/>
<line x1="437.45" y1="422.5" x2="437.45" y2="425.1" stroke="#000" stroke-width="1.2"/>
<line x1="422.04" y1="422.5" x2="422.04" y2="424.1" stroke="#000" stroke-width="1.1"/>
<line x1="468.26" y1="422.5" x2="468.26" y2="425.1" stroke="#000" stroke-width="1.2"/>
<line x1="452.86" y1="422.5" x2="452.86" y2="424.1" stroke="#000" stroke-width="1.1"/>
<line x1="499.08" y1="422.5" x2="499.08" y2="425.1" stroke="#000" stroke-width="1.2"/>
<line x1="483.67" y1="422.5" x2="483.67" y2="424.1" stroke="#000" stroke-width="1.1"/>
<line x1="529.89" y1="422.5" x2="529.89" y2="425.1" stroke="#000" stroke-width="1.2"/>
<line x1="514.49" y1="422.5" x2="514.49" y2="424.1" stroke="#000" stroke-width="1.1"/>
<text x="316.68" y="427.3" font-size="14.44" textLength="9.05" lengthAdjust="spacingAndGlyphs" fill="#000">0</text>
<text x="302.31" y="353.3" font-size="14.59" textLength="22.28" lengthAdjust="spacingAndGlyphs" fill="#000">100</text>
<text x="302.92" y="279.1" font-size="14.44" textLength="21.87" lengthAdjust="spacingAndGlyphs" fill="#000">200</text>
<text x="337.62" y="438.7" font-size="15.49" textLength="14.78" lengthAdjust="spacingAndGlyphs" fill="#000">20</text>
<text x="368.43" y="438.7" font-size="15.49" textLength="14.78" lengthAdjust="spacingAndGlyphs" fill="#000">30</text>
<text x="399.62" y="438.7" font-size="15.49" textLength="14.39" lengthAdjust="spacingAndGlyphs" fill="#000">40</text>
<text x="430.06" y="438.7" font-size="15.49" textLength="14.78" lengthAdjust="spacingAndGlyphs" fill="#000">50</text>
<text x="460.95" y="438.7" font-size="15.49" textLength="14.7" lengthAdjust="spacingAndGlyphs" fill="#000">60</text>
<text x="491.45" y="438.7" font-size="15.49" textLength="15.03" lengthAdjust="spacingAndGlyphs" fill="#000">70</text>
<text x="522.58" y="438.7" font-size="15.49" textLength="14.7" lengthAdjust="spacingAndGlyphs" fill="#000">80</text>
<text x="360.98" y="451.9" font-size="13.81" textLength="154.45" lengthAdjust="spacingAndGlyphs" fill="#000">Electrodeposition time(s)</text>
<text transform="translate(300,390.52) rotate(-90)" x="0" y="0" font-size="13.81" textLength="118.28" lengthAdjust="spacingAndGlyphs">Overpotential(mV)</text>
<text x="330.23" y="262.6" font-size="32.66" textLength="17.62" lengthAdjust="spacingAndGlyphs" fill="#000">d</text>
</g>
</svg>
</body></html>
